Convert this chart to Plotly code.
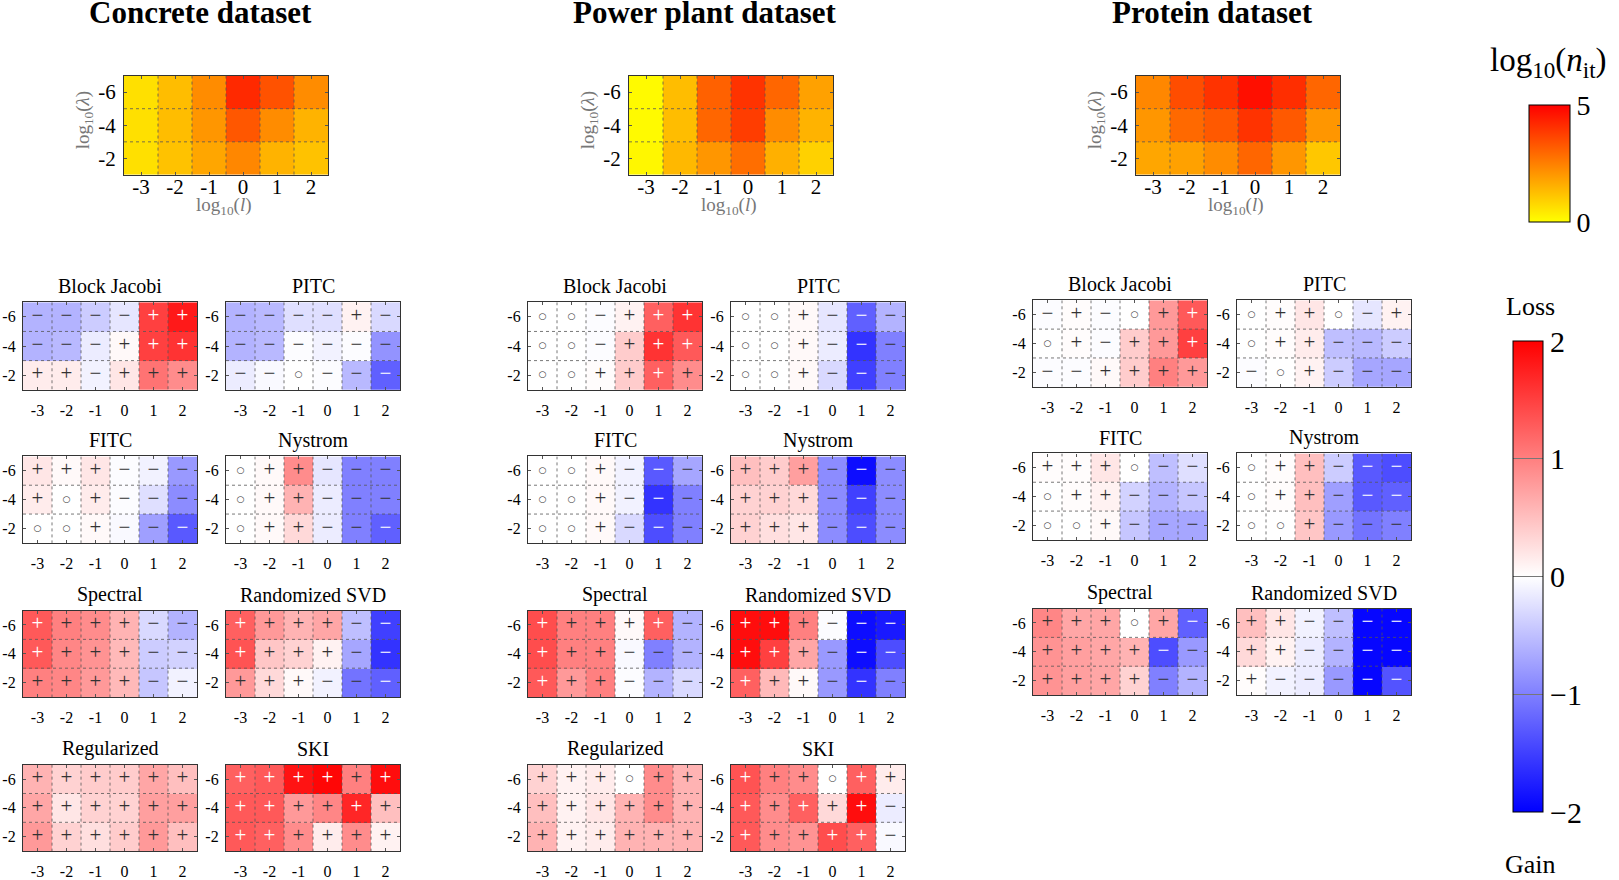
import plotly.graph_objects as go

W, H = 1619, 880

l_vals = [-3, -2, -1, 0, 1, 2]
lam_vals = [-6, -4, -2]

# log10(n_it) per dataset, rows = lambda -6, -4, -2
concrete_nit = [[0.6, 1.3, 2.25, 4.2, 3.4, 2.25],
                [0.6, 1.3, 2.05, 3.3, 2.25, 1.5],
                [0.6, 1.2, 1.75, 2.35, 1.5, 1.2]]
power_nit = [[0.1, 1.3, 3.1, 4.0, 3.0, 1.85],
             [0.1, 1.3, 3.0, 3.8, 2.25, 1.5],
             [0.15, 1.4, 2.05, 2.85, 1.55, 0.9]]
protein_nit = [[2.35, 3.5, 4.0, 4.7, 4.1, 3.0],
               [2.05, 2.95, 3.25, 4.0, 3.25, 2.05],
               [1.75, 1.85, 2.25, 3.0, 2.05, 1.1]]

methods = ["Block Jacobi", "PITC", "FITC", "Nystrom", "Spectral", "Randomized SVD", "Regularized", "SKI"]

# loss values (rows = lambda -6, -4, -2) and significance symbols (o = no difference)
concrete_loss = [
    [[-0.6, -0.6, -0.4, -0.2, 1.5, 1.8], [-0.6, -0.55, -0.15, 0.05, 1.5, 1.6], [0.15, 0.15, -0.1, 0.2, 1.1, 0.9]],
    [[-0.6, -0.55, -0.25, -0.25, 0.1, -0.3], [-0.6, -0.55, -0.02, -0.1, -0.02, -0.85], [-0.15, -0.05, 0.0, -0.02, -0.55, -1.25]],
    [[0.2, 0.05, 0.2, -0.02, -0.1, -0.8], [0.15, 0.0, 0.15, -0.02, -0.25, -0.9], [0.0, 0.0, 0.05, -0.05, -0.75, -1.3]],
    [[0.0, 0.05, 0.9, -0.2, -1.0, -1.0], [0.0, 0.05, 0.6, -0.15, -1.0, -1.0], [0.0, 0.05, 0.3, -0.15, -1.0, -1.25]],
    [[1.3, 1.0, 0.9, 0.6, -0.3, -0.6], [1.3, 0.95, 0.85, 0.55, -0.4, -0.35], [1.0, 0.95, 0.8, 0.55, -0.45, -0.1]],
    [[1.25, 0.8, 0.6, 0.7, -0.5, -1.5], [1.35, 0.45, 0.35, 0.1, -0.7, -1.6], [0.8, 0.3, 0.05, -0.1, -1.1, -1.25]],
    [[0.6, 0.35, 0.4, 0.4, 0.7, 0.5], [0.7, 0.2, 0.35, 0.35, 0.75, 0.75], [0.8, 0.35, 0.25, 0.4, 0.8, 0.5]],
    [[1.25, 1.3, 1.85, 1.95, 1.0, 1.9], [1.3, 1.3, 0.8, 0.95, 1.7, 0.5], [1.3, 1.25, 0.9, 0.15, 0.9, 0.1]],
]
concrete_sym = [
    ["−−−−++", "−−−+++", "++−+++"],
    ["−−−−+−", "−−−−−−", "−−o−−−"],
    ["+++−−−", "+o+−−−", "oo+−−−"],
    ["o++−−−", "o++−−−", "o++−−−"],
    ["++++−−", "++++−−", "++++−−"],
    ["++++−−", "++++−−", "+++−−−"],
    ["++++++", "++++++", "++++++"],
    ["++++++", "++++++", "++++++"],
]

power_loss = [
    [[0.0, 0.0, -0.02, 0.1, 1.25, 1.6], [0.0, 0.0, -0.02, 0.4, 1.6, 1.3], [0.0, 0.0, 0.02, 0.4, 1.25, 0.9]],
    [[0.0, 0.0, 0.05, -0.2, -1.25, -0.6], [0.0, 0.0, 0.05, -0.15, -1.6, -1.0], [0.0, 0.0, 0.05, -0.3, -1.5, -1.0]],
    [[0.0, 0.0, 0.05, -0.1, -1.3, -0.7], [0.0, 0.0, 0.05, -0.1, -1.6, -1.0], [0.0, 0.0, 0.05, -0.3, -1.4, -1.0]],
    [[0.5, 0.4, 0.75, -0.9, -1.9, -0.9], [0.35, 0.35, 0.3, -0.9, -1.5, -0.9], [0.35, 0.25, 0.2, -0.9, -1.4, -0.9]],
    [[1.4, 1.0, 1.0, 0.05, 1.25, -0.6], [1.4, 1.0, 1.0, -0.05, -1.0, -0.6], [1.3, 0.8, 1.0, -0.02, -0.6, -0.3]],
    [[1.9, 1.9, 1.0, -0.02, -1.9, -1.8], [1.9, 1.5, 0.7, -0.8, -1.9, -1.4], [1.25, 0.55, 0.05, -0.8, -1.6, -1.0]],
    [[0.35, 0.1, 0.15, 0.0, 0.9, 0.6], [0.5, 0.1, 0.2, 0.6, 0.9, 0.6], [0.6, 0.1, 0.15, 0.6, 0.6, 0.6]],
    [[1.35, 1.0, 0.9, 0.0, 1.25, 0.15], [1.3, 0.9, 1.25, 0.3, 1.9, -0.15], [1.3, 0.9, 0.85, 1.4, 1.25, -0.05]],
]
power_sym = [
    ["oo−+++", "oo−+++", "oo++++"],
    ["oo+−−−", "oo+−−−", "oo+−−−"],
    ["oo+−−−", "oo+−−−", "oo+−−−"],
    ["+++−−−", "+++−−−", "+++−−−"],
    ["+++++−", "+++−−−", "+++−−−"],
    ["+++−−−", "+++−−−", "+++−−−"],
    ["+++o++", "++++++", "++++++"],
    ["+++o++", "+++++−", "+++++−"],
]

protein_loss = [
    [[-0.02, 0.02, -0.02, 0.0, 0.8, 1.3], [0.0, 0.02, -0.02, 0.4, 0.8, 1.5], [-0.02, -0.02, 0.05, 0.4, 1.0, 0.8]],
    [[0.0, 0.02, 0.2, 0.0, -0.2, 0.1], [0.0, 0.02, 0.15, -0.5, -0.55, -0.4], [-0.02, 0.0, 0.1, -0.4, -0.7, -0.7]],
    [[0.02, 0.02, 0.2, 0.0, -0.5, -0.25], [0.0, 0.02, 0.1, -0.35, -0.6, -0.45], [0.0, 0.0, 0.05, -0.45, -0.7, -0.7]],
    [[0.0, 0.02, 0.5, -0.4, -1.3, -1.4], [0.0, 0.02, 0.5, -0.75, -1.3, -1.25], [0.0, 0.0, 0.45, -0.8, -1.1, -1.0]],
    [[0.95, 0.7, 0.7, 0.0, 0.7, -1.25], [0.85, 0.75, 0.7, 0.6, -1.4, -0.8], [0.85, 0.75, 0.7, 0.35, -1.0, -0.6]],
    [[0.5, 0.2, -0.1, -0.5, -1.95, -1.95], [0.3, 0.1, -0.15, -0.6, -1.95, -1.95], [0.02, -0.1, -0.15, -0.8, -1.95, -1.35]],
]
protein_sym = [
    ["−+−o++", "o+−+++", "−−++++"],
    ["o++o−+", "o++−−−", "−o+−−−"],
    ["+++o−−", "o++−−−", "oo+−−−"],
    ["o++−−−", "o++−−−", "oo+−−−"],
    ["+++o+−", "++++−−", "++++−−"],
    ["++−−−−", "++−−−−", "+−−−−−"],
]

FONT = "Liberation Serif"
loss_scale = [[0, "rgb(0,0,255)"], [0.5, "rgb(255,255,255)"], [1, "rgb(255,0,0)"]]
nit_scale = [[0, "rgb(255,255,0)"], [1, "rgb(255,0,0)"]]

fig = go.Figure()
shapes = []
annotations = []
n_ax = [0]


def px_x(p):
    return p / W


def px_y(p):
    return 1 - p / H


def note(text, x, y, size, color="black", angle=0):
    annotations.append(dict(text=text, x=px_x(x), y=px_y(y), xref="paper", yref="paper",
                            xanchor="center", yanchor="middle", showarrow=False, textangle=angle,
                            font=dict(family=FONT, size=size, color=color)))


def add_panel(z, x0, x1, y0, y1, scale, zmin, zmax, tick_size, xstand, ystand, sym=None, colorbar=None):
    n_ax[0] += 1
    i = n_ax[0]
    xs = "x" if i == 1 else "x%d" % i
    ys = "y" if i == 1 else "y%d" % i
    hm = go.Heatmap(z=z, x=l_vals, y=lam_vals, colorscale=scale, zmin=zmin, zmax=zmax,
                    xaxis=xs, yaxis=ys, showscale=colorbar is not None, hoverinfo="skip")
    if colorbar is not None:
        hm.colorbar = colorbar
    fig.add_trace(hm)
    if sym is not None:
        tx, ty, tt, tc, ts, tf = [], [], [], [], [], []
        for r, lam in enumerate(lam_vals):
            for c, l in enumerate(l_vals):
                s = sym[r][c]
                tx.append(l)
                ty.append(lam)
                tt.append("○" if s == "o" else s)
                tc.append("white" if abs(z[r][c]) >= 1.2 else "#333")
                ts.append(9 if s == "o" else 21)
                tf.append("DejaVu Sans" if s == "o" else FONT)
        fig.add_trace(go.Scatter(x=tx, y=ty, text=tt, mode="text", xaxis=xs, yaxis=ys,
                                 textfont=dict(color=tc, size=ts, family=tf),
                                 showlegend=False, hoverinfo="skip"))
    ax = dict(showline=True, linecolor="#333", linewidth=1.2, mirror="ticks", ticks="inside",
              ticklen=3, tickcolor="#555", showgrid=False, zeroline=False, fixedrange=True,
              tickfont=dict(family=FONT, size=tick_size, color="black"))
    fig.layout["xaxis" if i == 1 else "xaxis%d" % i] = dict(
        ax, domain=[px_x(x0), px_x(x1)], anchor=ys, range=[-3.5, 2.5],
        tickvals=l_vals, ticktext=[str(v) for v in l_vals], ticklabelstandoff=xstand)
    fig.layout["yaxis" if i == 1 else "yaxis%d" % i] = dict(
        ax, domain=[px_y(y1), px_y(y0)], anchor=xs, range=[-1, -7],
        tickvals=lam_vals, ticktext=[str(v) for v in lam_vals], ticklabelstandoff=ystand)
    for gx in [-2.5, -1.5, -0.5, 0.5, 1.5]:
        shapes.append(dict(type="line", xref=xs, yref=ys, x0=gx, x1=gx, y0=-7, y1=-1,
                           line=dict(color="#555", width=0.8, dash="dot")))
    for gy in [-5, -3]:
        shapes.append(dict(type="line", xref=xs, yref=ys, x0=-3.5, x1=2.5, y0=gy, y1=gy,
                           line=dict(color="#555", width=0.8, dash="dot")))


datasets = [
    ("Concrete dataset", concrete_nit, concrete_loss, concrete_sym, (124, 328),
     [(23, 197), (226, 400)], [(304, 392), (459, 546), (614, 701), (769, 856)]),
    ("Power plant dataset", power_nit, power_loss, power_sym, (629, 833),
     [(528, 702), (731, 905)], [(304, 392), (459, 546), (614, 701), (769, 856)]),
    ("Protein dataset", protein_nit, protein_loss, protein_sym, (1136, 1340),
     [(1033, 1207), (1237, 1411)], [(302, 389), (456, 543), (612, 699)]),
]

nit_cb = dict(x=1529 / W, xanchor="left", y=px_y(106), yanchor="top", len=117, lenmode="pixels",
              thickness=41, thicknessmode="pixels", xpad=0, ypad=0, tickvals=[0, 5], ticks="",
              outlinewidth=1, outlinecolor="black",
              tickfont=dict(family=FONT, size=28, color="black"))
loss_cb = dict(x=1513 / W, xanchor="left", y=px_y(343), yanchor="top", len=471, lenmode="pixels",
               thickness=30, thicknessmode="pixels", xpad=0, ypad=0, tickvals=[-2, -1, 0, 1, 2],
               ticktext=["−2", "−1", "0", "1", "2"], ticks="inside", ticklen=30, tickcolor="#777",
               outlinewidth=1, outlinecolor="black",
               tickfont=dict(family=FONT, size=30, color="black"))

first = True
for name, nit, loss, sym, (tx0, tx1), cols, rows in datasets:
    note("<b>%s</b>" % name, (tx0 + tx1) / 2 - 26, 13, 31)
    add_panel(nit, tx0, tx1, 76, 176, nit_scale, 0, 5, 21, -7, 3,
              colorbar=nit_cb if first else None)
    note("log<sub>10</sub>(<i>λ</i>)", tx0 - 40, 121, 19, "#777", -90)
    note("log<sub>10</sub>(<i>l</i>)", (tx0 + tx1) / 2 - 2, 207, 19, "#777")
    for k in range(len(loss)):
        r, c = divmod(k, 2)
        x0, x1 = cols[c]
        y0, y1 = rows[r]
        add_panel(loss[k], x0, x1, y0, y1, loss_scale, -2, 2, 16, 6, 3, sym=sym[k],
                  colorbar=loss_cb if first else None)
        first = False
        note(methods[k], (x0 + x1) / 2, y0 - 16, 20)
    first = False

note("log<sub>10</sub>(<i>n</i><sub>it</sub>)", 1548, 63, 33)
note("Loss", 1530, 308, 26)
note("Gain", 1530, 869, 26)

fig.update_layout(width=W, height=H, margin=dict(l=0, r=0, t=0, b=0),
                  paper_bgcolor="white", plot_bgcolor="white", showlegend=False,
                  shapes=shapes, annotations=annotations)
fig.write_html("out.html", config={"displayModeBar": False},
               post_script="document.body.style.margin='0';")
